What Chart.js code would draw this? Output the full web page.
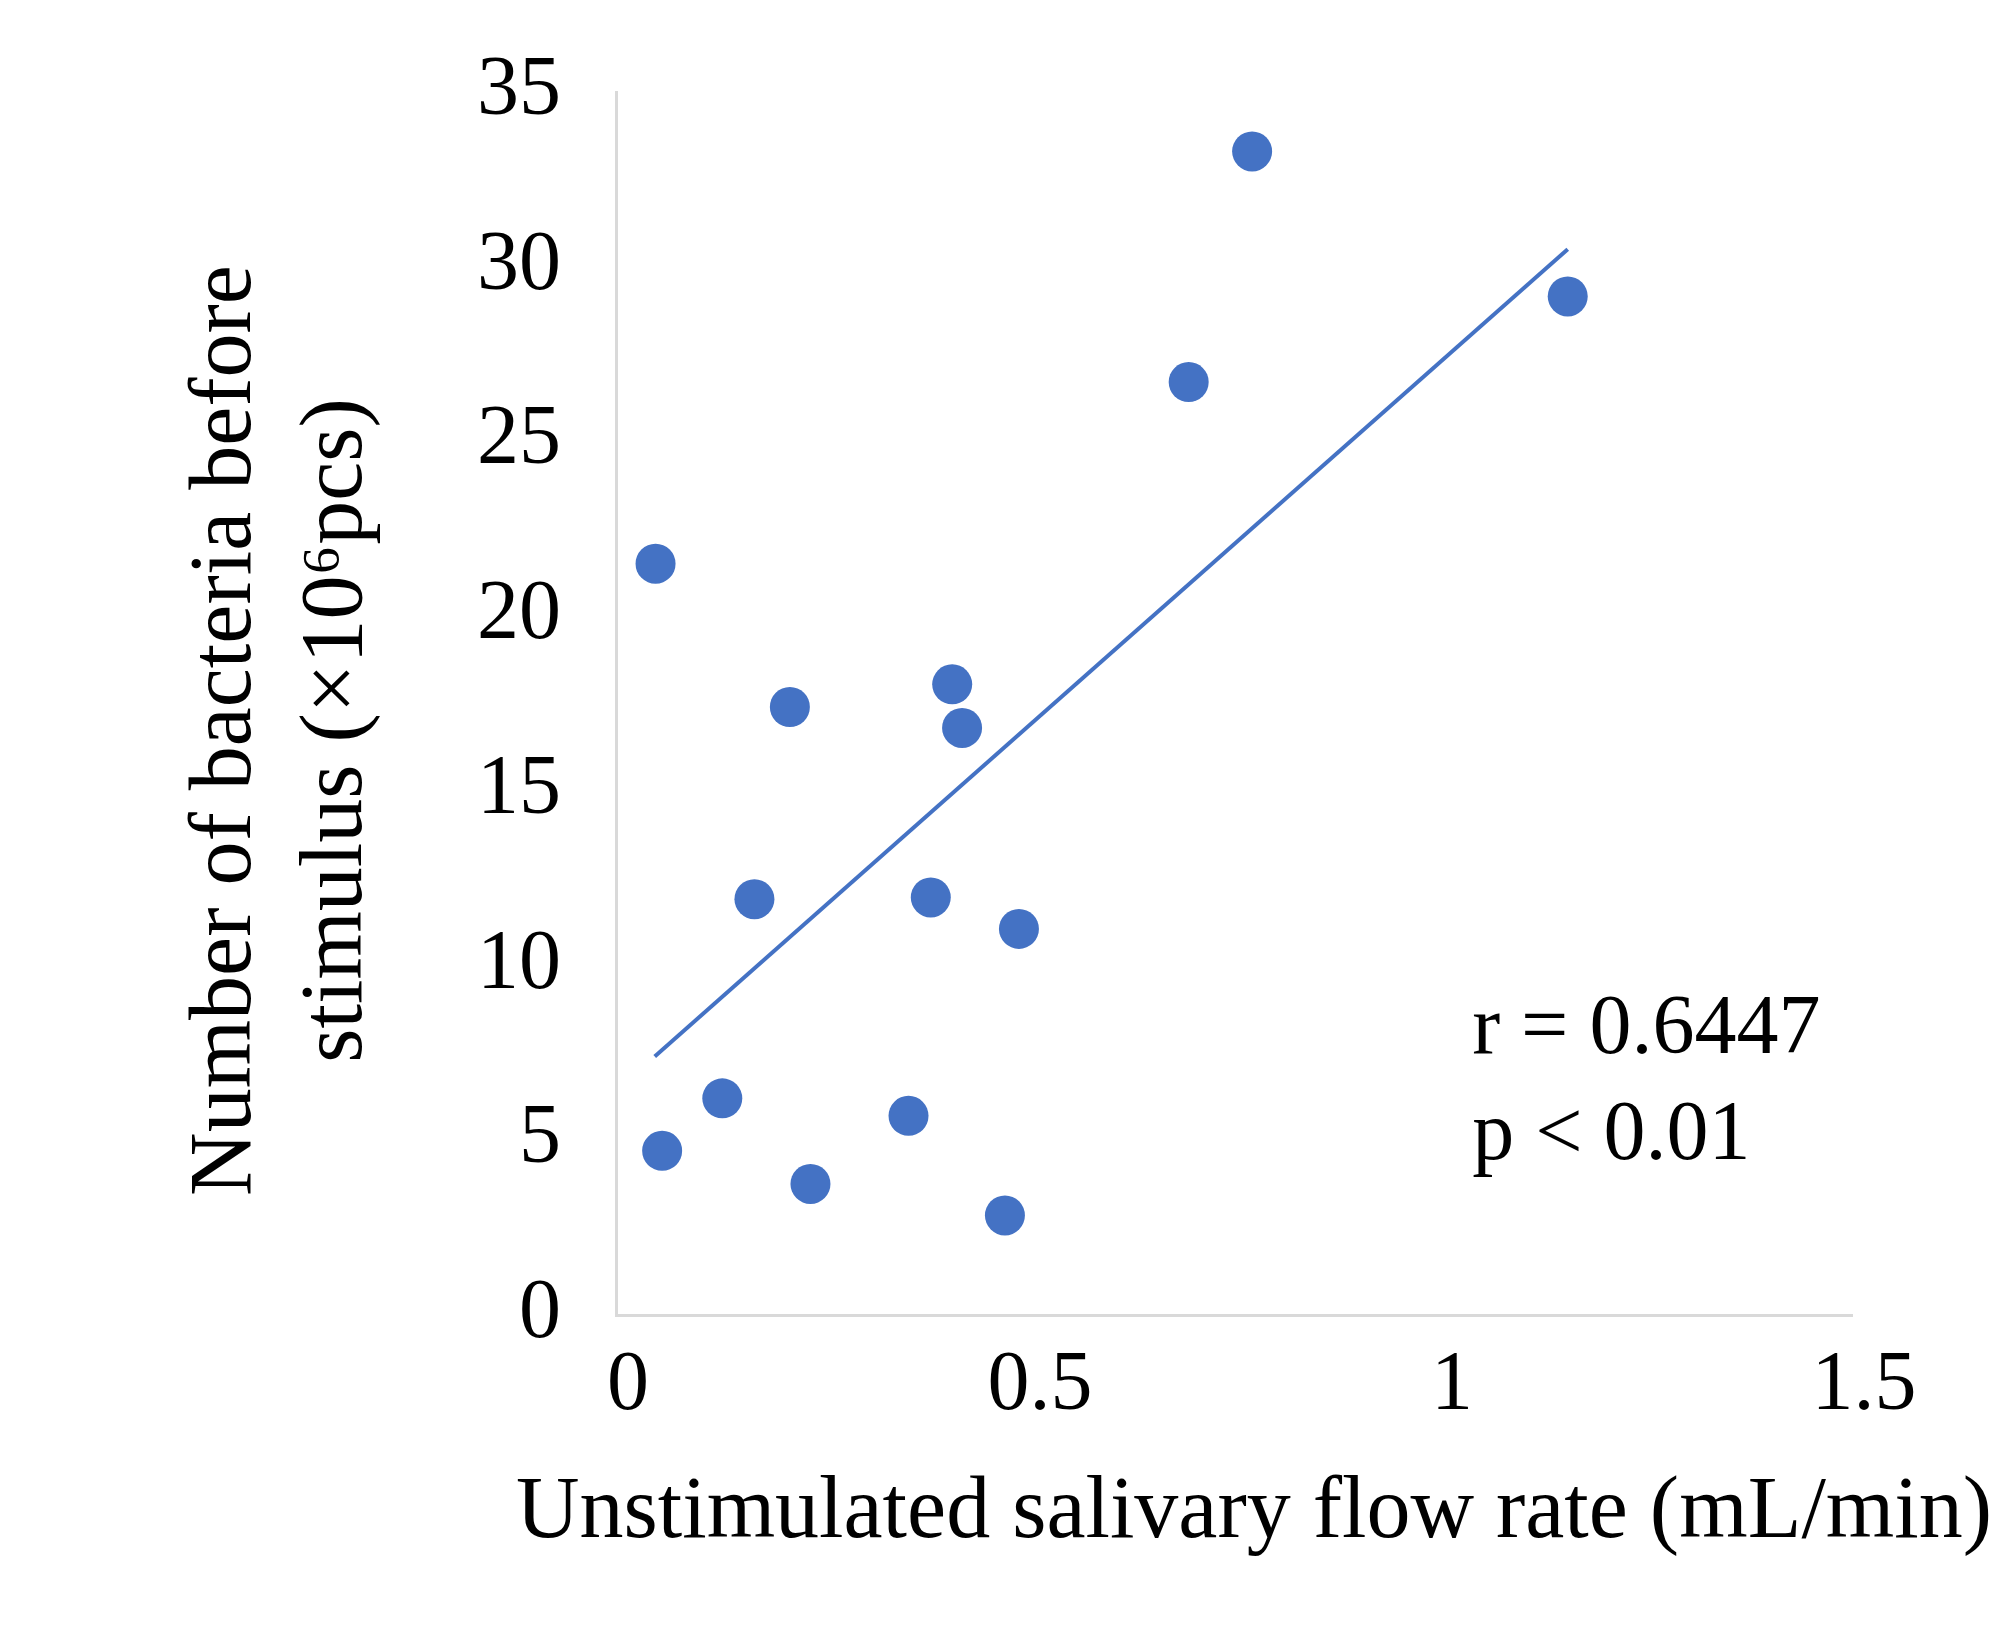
<!DOCTYPE html>
<html lang="en">

<head>
  <meta charset="UTF-8" />
  <title>Salivary flow vs bacteria</title>
  <script src="https://cdn.jsdelivr.net/npm/chart.js"></script>
  <style>
    body { margin: 0; background: #fff; }
    canvas { display: block; }
  </style>
</head>

<body>
  <canvas id="grafico" width="2000" height="1650"></canvas>

  <script>
    // values
    const flowRate = [0.048, 0.056, 0.129, 0.168, 0.211, 0.236, 0.355, 0.382, 0.408, 0.420, 0.472, 0.489, 0.695, 0.772, 1.155];
    const bacteria = [21.5, 4.7, 6.2, 11.9, 17.4, 3.75, 5.7, 11.95, 18.05, 16.8, 2.85, 11.05, 26.7, 33.3, 29.15];

    // ends of the trend line
    const trendX = [0.047, 1.155];
    const trendY = [7.4, 30.5];

    const xTicks = ['0', '0.5', '1', '1.5'];
    const yTicks = ['0', '5', '10', '15', '20', '25', '30', '35'];

    const xTitle = 'Unstimulated salivary flow rate (mL/min)';
    const yTitle = ['Number of bacteria before', 'stimulus (×10⁶pcs)'];
    const stats = ['r = 0.6447', 'p < 0.01'];

    const serif = "'Liberation Serif', 'Times New Roman', serif";
    const azul = '#4472C4';

    let pontos = [];
    for (let i = 0; i < flowRate.length; i++) {
      pontos.push({ x: flowRate[i], y: bacteria[i] });
    }
    let linha = [];
    for (let i = 0; i < trendX.length; i++) {
      linha.push({ x: trendX[i], y: trendY[i] });
    }

    // r / p text and the axis titles (the x title is wider than the plot,
    // chart.js would squeeze it)
    const textos = {
      id: 'textos',
      afterDraw(chart) {
        const ctx = chart.ctx;
        const area = chart.chartArea;
        const x = chart.scales.x.getPixelForValue(1.039);
        const y = chart.scales.y.getPixelForValue(7.5);
        ctx.save();
        ctx.fillStyle = '#000';

        ctx.font = '84px ' + serif;
        ctx.textAlign = 'left';
        ctx.textBaseline = 'alphabetic';
        stats.forEach((t, i) => ctx.fillText(t, x, y + i * 106));

        ctx.font = '88px ' + serif;
        ctx.textAlign = 'center';
        ctx.textBaseline = 'middle';
        ctx.fillText(xTitle, (area.left + area.right) / 2 + 20, 1514);

        ctx.translate(227, (area.top + area.bottom) / 2 + 27);
        ctx.rotate(-Math.PI / 2);
        yTitle.forEach((t, i) => ctx.fillText(t, 0, i * 111));
        ctx.restore();
      }
    };

    new Chart(document.getElementById('grafico'), {
      type: 'scatter',
      data: {
        datasets: [{
          data: pontos,
          backgroundColor: azul,
          borderWidth: 0,
          pointRadius: 20,
          pointHoverRadius: 20
        }, {
          data: linha,
          showLine: true,
          borderColor: azul,
          borderWidth: 4,
          pointRadius: 0
        }]
      },
      options: {
        responsive: false,
        animation: false,
        devicePixelRatio: 1,
        layout: { padding: { top: 92, right: 148, left: 0, bottom: 0 } },
        plugins: { legend: { display: false }, tooltip: { enabled: false } },
        scales: {
          x: {
            type: 'linear',
            min: 0,
            max: 1.5,
            afterFit: (scale) => {
              scale.height = 335;
              scale.paddingLeft = 0;
              scale.paddingRight = 0;
            },
            grid: { display: false, drawTicks: false },
            border: { display: true, color: '#d9d9d9', width: 3 },
            ticks: {
              stepSize: 0.5,
              padding: 22,
              labelOffset: 12,
              color: '#000',
              font: { family: serif, size: 84 },
              callback: (v, i) => xTicks[i]
            }
          },
          y: {
            min: 0,
            max: 35,
            afterFit: (scale) => {
              scale.width = 616;
              scale.paddingTop = 0;
              scale.paddingBottom = 0;
            },
            grid: { display: false, drawTicks: false },
            border: { display: true, color: '#d9d9d9', width: 3 },
            ticks: {
              stepSize: 5,
              padding: 55,
              color: '#000',
              font: { family: serif, size: 84 },
              callback: (v, i) => yTicks[i]
            }
          }
        }
      },
      plugins: [textos]
    });
  </script>
</body>

</html>
